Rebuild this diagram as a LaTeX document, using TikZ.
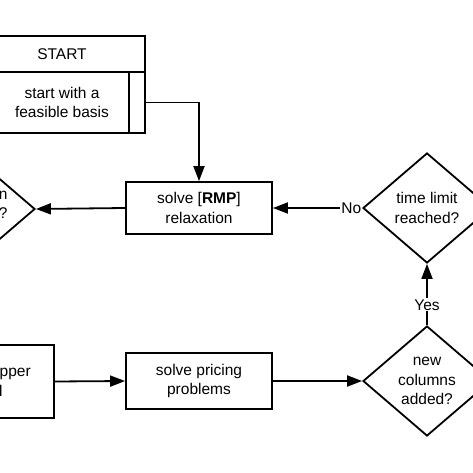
\documentclass[tikz,border=0pt]{standalone}
\usepackage{fontspec}
\setmainfont{Liberation Sans}
\usetikzlibrary{arrows.meta,shapes.geometric}
\begin{document}
\begin{tikzpicture}[x=1pt,y=-1pt,
  box/.style={draw,line width=1.8pt,minimum width=146pt,align=center,inner sep=0pt},
  dia/.style={draw,diamond,line width=1.8pt,minimum width=128pt,minimum height=110pt,inner sep=0pt,align=center},
  arr/.style={line width=1.8pt,-{Triangle[length=15pt,width=11pt]}},
  font=\fontsize{15.5}{19.5}\selectfont]
\useasboundingbox (0,0) rectangle (473,473);
\clip (0,0) rectangle (473,473);
\node[box,minimum width=166pt,minimum height=36pt] (start) at(62,54) {START};
\node[box,minimum width=166pt,minimum height=61pt] (basis) at(62,102.5) {start with a\\feasible basis};
\draw[line width=1.8pt] ([xshift=-17pt]basis.north east) -- ([xshift=-17pt]basis.south east);
\draw[line width=1.8pt] ([xshift=17pt]basis.north west) -- ([xshift=17pt]basis.south west);
\node[box,minimum height=52pt] (rmp) at(199,208) {solve [\textbf{RMP}]\\relaxation};
\node[dia] (integ) at(-29,209) {};
\node[anchor=east,align=right] (integtxt) at(11,205) {is solution\\integral?};
\node[dia] (timed) at(427,208) {time limit\\reached?};
\node[box,minimum width=150pt,minimum height=73pt] (ub) at(-21,381.5) {compute upper\\\textbf{bound}};
\node[box,minimum height=56pt] (pricing) at(199,381) {solve pricing\\problems};
\node[dia] (newcol) at(427,381) {new\\columns\\added?};
\draw[arr] (basis.east) -| (rmp.north);
\draw[arr] (rmp.west) -- (integ.east);
\draw[arr] (timed.west) -- node[pos=.12,fill=white,inner sep=1pt] (no) {No} (rmp.east);
\draw[arr] (newcol.north) -- node[pos=.33,fill=white,inner sep=1pt] (yes) {Yes} (timed.south);
\draw[arr] (ub.east) -- (pricing.west);
\draw[arr] (pricing.east) -- (newcol.west);
\end{tikzpicture}
\end{document}
